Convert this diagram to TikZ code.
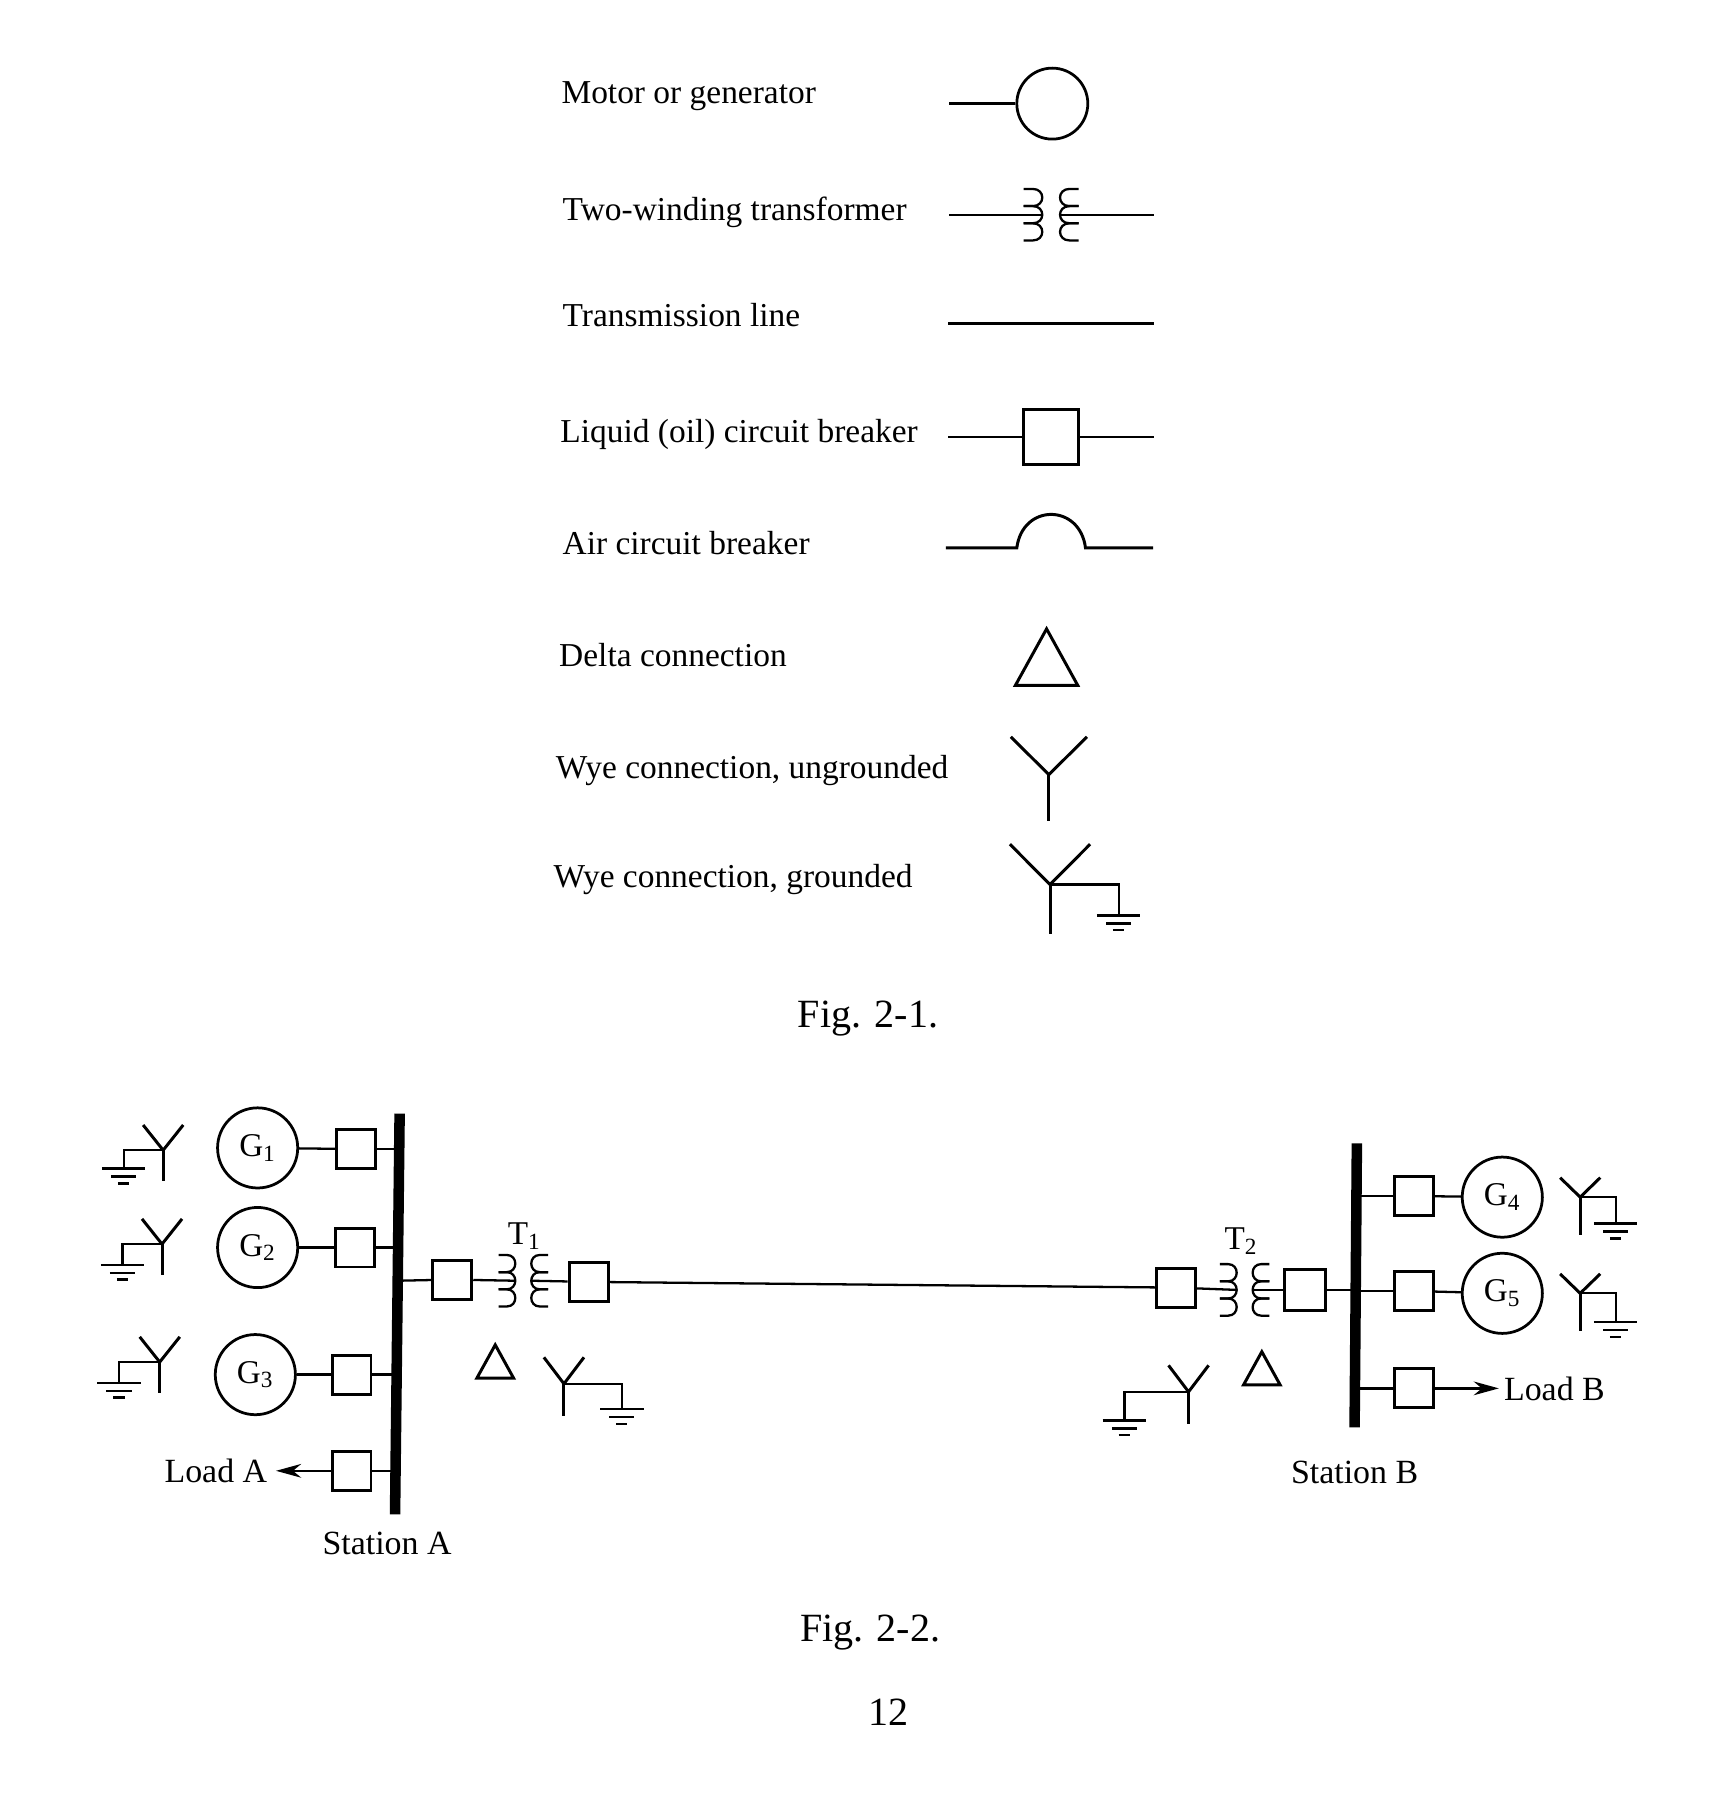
\documentclass[tikz,border=0pt]{standalone}
\usepackage{fontspec}
\setmainfont{Liberation Serif}
\usetikzlibrary{arrows.meta}

\begin{document}
\begin{tikzpicture}[x=0.5pt,y=-0.5pt]
	\tikzset{wire/.style={line width=1pt},
			 symbol/.style={line width=1.3pt},
			 breaker/.style={draw,
							 rectangle,
							 line width=1.3pt,
							 inner sep=0pt,
							 minimum size=17pt},
			 machine/.style={draw,
							 circle,
							 line width=1.2pt,
							 inner sep=0pt,
							 minimum size=35pt,
							 font=\fontsize{14.5}{16}\selectfont},
			 busbar/.style={line width=4.6pt},
			 flow/.style={-{Stealth[length=11pt,width=6pt]},line width=1pt},
			 textlabel/.style={anchor=base west,inner sep=0pt,font=\fontsize{14.6}{17}\selectfont},
			 midlabel/.style={anchor=base,inner sep=0pt,font=\fontsize{14.8}{17}\selectfont},
			 caption/.style={anchor=base,inner sep=0pt,font=\fontsize{17.5}{20}\selectfont},
			 wye/.pic={\coordinate (-join) at (0,0);
					   \draw[symbol] (-17.5,-22) -- (0,0) -- (17.5,-22);
					   \draw[symbol] (0,0) -- (0,27);},
			 shortwye/.pic={\coordinate (-join) at (0,0);
							\draw[symbol] (-17.5,-17) -- (0,0) -- (17.5,-17);
							\draw[symbol] (0,0) -- (0,33);},
			 ground/.pic={\coordinate (-top) at (0,0);
						  \draw[wire] (-19,0) -- (19,0);
						  \draw[wire] (-11,7) -- (11,7);
						  \draw[wire] (-5,13) -- (5,13);},
			 delta/.pic={\draw[symbol] (0,-29) -- (16,0) -- (-16,0) -- cycle;},
			 transformer/.pic={\coordinate (-west) at (-8,0);
							   \coordinate (-east) at (8,0);
							   \foreach \s in {1,-1}
								   \foreach \t in {-22.5,-7.5,7.5}
									   \draw[wire,xscale=\s] (-24,\t) -- (-16,\t) .. controls (-5,\t) and (-5,\t+15) .. (-16,\t+15) -- (-24,\t+15);}}
	\useasboundingbox (-3,-2.5) rectangle (1497,1569.5);

	% Legend
	\node[textlabel] (tmotor) at (487,88) {Motor or generator};
	\node[textlabel] (ttrans) at (488,190) {Two-winding transformer};
	\node[textlabel] (tline) at (488,283) {Transmission line};
	\node[textlabel] (toil) at (486,384) {Liquid (oil) circuit breaker};
	\node[textlabel] (tair) at (488,482) {Air circuit breaker};
	\node[textlabel] (tdelta) at (485,580) {Delta connection};
	\node[textlabel] (twyeu) at (482,677) {Wye connection, ungrounded};
	\node[textlabel] (twyeg) at (480,773) {Wye connection, grounded};
	\node[caption] (fig1) at (755,895) {Fig. 2-1.};

	\node[machine,minimum size=31pt] (motor) at (916,88) {};
	\coordinate (motorin) at (826,88);
	\draw[wire] (motorin) -- (motor);

	\pic (ltrans) at (915,185) {transformer};
	\coordinate (ltransin) at (826,185);
	\coordinate (ltransout) at (1005,185);
	\draw[wire] (ltransin) -- (ltrans-west);
	\draw[wire] (ltrans-east) -- (ltransout);

	\coordinate (lineleft) at (825,280);
	\coordinate (lineright) at (1005,280);
	\draw[wire] (lineleft) -- (lineright);

	\node[breaker,minimum size=24pt] (loil) at (915,379) {};
	\coordinate (loilin) at (825,379);
	\coordinate (loilout) at (1005,379);
	\draw[wire] (loilin) -- (loil);
	\draw[wire] (loil) -- (loilout);

	\coordinate (lairin) at (823,476);
	\coordinate (lairl) at (885,476);
	\coordinate (lairr) at (945,476);
	\coordinate (lairout) at (1004,476);
	\draw[symbol] (lairin) -- (lairl) .. controls (890,437) and (940,437) .. (lairr) -- (lairout);

	\pic[scale=1.7] at (911,596) {delta};
	\pic[xscale=1.9,yscale=1.5] (lwyeu) at (913,674) {wye};
	\pic[xscale=2,yscale=1.6] (lwyeg) at (914,770) {wye};
	\pic (lgnd) at (974,797) {ground};
	\draw[wire] (lwyeg-join) -| (lgnd-top);

	% Station A
	\coordinate (busatop) at (346,970);
	\coordinate (busabot) at (342,1320);
	\draw[busbar] (busatop) -- (busabot);
	\node[midlabel] (stationa) at (335,1355) {Station A};

	\node[machine] (g1) at (222,1000) {G\textsubscript{1}};
	\node[machine] (g2) at (222,1087) {G\textsubscript{2}};
	\node[machine] (g3) at (220,1198) {G\textsubscript{3}};
	\node[breaker] (cb1) at (308,1001) {};
	\node[breaker] (cb2) at (307,1087) {};
	\node[breaker] (cb3) at (304,1198) {};
	\node[breaker] (cba) at (304,1282) {};
	\coordinate (a1) at (343,1001);
	\coordinate (a2) at (343,1087);
	\coordinate (a3) at (341,1198);
	\coordinate (a4) at (340,1282);
	\coordinate (arrowa) at (238,1282);
	\node[midlabel] (loada) at (185.5,1292) {Load A};
	\draw[wire] (g1) -- (cb1);
	\draw[wire] (cb1) -- (a1);
	\draw[wire] (g2) -- (cb2);
	\draw[wire] (cb2) -- (a2);
	\draw[wire] (g3) -- (cb3);
	\draw[wire] (cb3) -- (a3);
	\draw[wire] (cba) -- (a4);
	\draw[flow] (cba) -- (arrowa);

	\pic (w1) at (139.5,1002) {wye};
	\pic (w2) at (138.5,1084) {wye};
	\pic (w3) at (136.5,1187) {wye};
	\pic (e1) at (105,1018) {ground};
	\pic (e2) at (104,1102) {ground};
	\pic (e3) at (101,1205) {ground};
	\draw[wire] (w1-join) -| (e1-top);
	\draw[wire] (w2-join) -| (e2-top);
	\draw[wire] (w3-join) -| (e3-top);

	% Line between the stations
	\coordinate (a5) at (344,1116);
	\node[breaker] (cbt1a) at (392,1115) {};
	\pic[xscale=0.9] (t1) at (454,1116) {transformer};
	\node[breaker] (cbt1b) at (511,1117) {};
	\node[anchor=base,inner sep=0pt,font=\fontsize{14.5}{16}\selectfont] (t1text) at (455,1084) {T\textsubscript{1}};
	\node[breaker] (cbt2a) at (1024,1122) {};
	\pic[xscale=0.9] (t2) at (1084,1124) {transformer};
	\node[breaker,minimum size=18pt] (cbt2b) at (1137,1124) {};
	\node[anchor=base,inner sep=0pt,font=\fontsize{14.5}{16}\selectfont] (t2text) at (1081,1089) {T\textsubscript{2}};
	\coordinate (b5) at (1181,1124);
	\draw[wire] (a5) -- (cbt1a);
	\draw[wire] (cbt1a) -- (t1-west);
	\draw[wire] (t1-east) -- (cbt1b);
	\draw[wire] (cbt1b) -- (cbt2a);
	\draw[wire] (cbt2a) -- (t2-west);
	\draw[wire] (t2-east) -- (cbt2b);
	\draw[wire] (cbt2b) -- (b5);

	\pic at (429.5,1201) {delta};
	\pic[yscale=1.05] (wt1) at (489.5,1206) {wye};
	\pic (et1) at (540,1228) {ground};
	\draw[wire] (wt1-join) -| (et1-top);
	\pic at (1099,1207) {delta};
	\pic[yscale=1.05] (wt2) at (1035,1213) {wye};
	\pic (et2) at (979,1238) {ground};
	\draw[wire] (wt2-join) -| (et2-top);

	% Station B
	\coordinate (busbtop) at (1182,996);
	\coordinate (busbbot) at (1180,1244);
	\draw[busbar] (busbtop) -- (busbbot);
	\node[midlabel] (stationb) at (1180,1293) {Station B};

	\node[machine] (g4) at (1309,1043) {G\textsubscript{4}};
	\node[machine] (g5) at (1309,1127) {G\textsubscript{5}};
	\node[breaker] (cb4) at (1232,1042) {};
	\node[breaker] (cb5) at (1232,1125) {};
	\node[breaker] (cbb) at (1232,1210) {};
	\coordinate (b1) at (1182,1042);
	\coordinate (b2) at (1181,1125);
	\coordinate (b3) at (1181,1210);
	\coordinate (arrowb) at (1306,1210);
	\node[midlabel] (loadb) at (1354.5,1221) {Load B};
	\draw[wire] (b1) -- (cb4);
	\draw[wire] (cb4) -- (g4);
	\draw[wire] (b2) -- (cb5);
	\draw[wire] (cb5) -- (g5);
	\draw[wire] (b3) -- (cbb);
	\draw[flow] (cbb) -- (arrowb);

	\pic (w4) at (1377,1043) {shortwye};
	\pic (w5) at (1377,1127) {shortwye};
	\pic (e4) at (1408,1066) {ground};
	\pic (e5) at (1408,1152) {ground};
	\draw[wire] (w4-join) -| (e4-top);
	\draw[wire] (w5-join) -| (e5-top);

	% Captions
	\node[caption] (fig2) at (757,1431) {Fig. 2-2.};
	\node[caption] (page) at (773,1504) {12};
\end{tikzpicture}
\end{document}
